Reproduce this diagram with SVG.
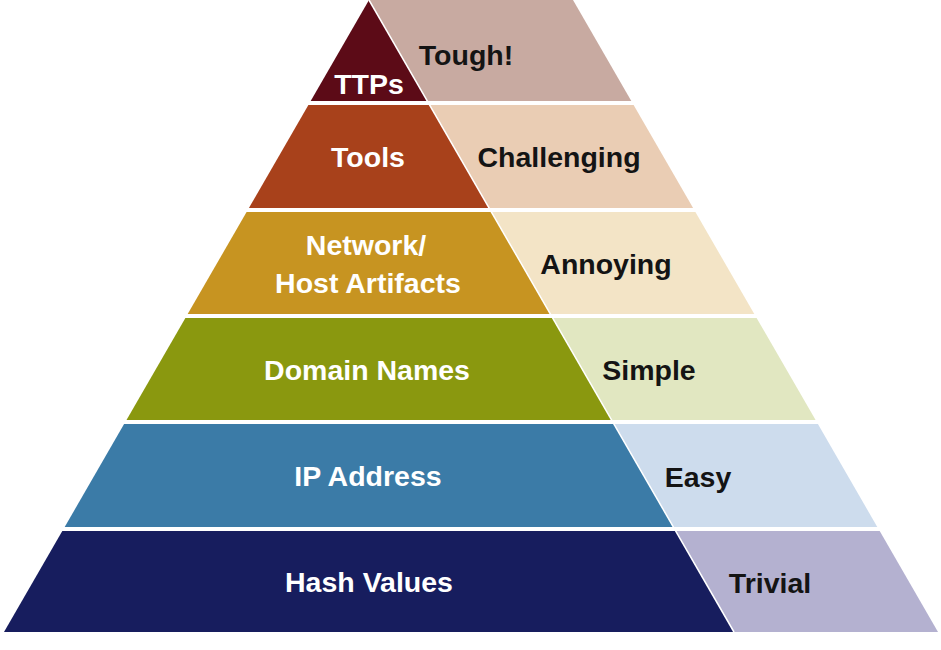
<svg xmlns="http://www.w3.org/2000/svg" width="941" height="650" viewBox="0 0 941 650">
<style>
.lbl{font-family:"Liberation Sans",Arial,sans-serif;font-weight:bold;font-size:28.5px}
.w{fill:#ffffff}
.d{fill:#141414}
.c{text-anchor:middle}
</style>
<rect x="0" y="0" width="941" height="650" fill="#ffffff"/>
<g id="ttps">
<polygon points="369,0 310.7,101 427.3,101" fill="#5c0b17"/>
<text class="lbl w c" x="369" y="94">TTPs</text>
</g>
<g id="tough">
<polygon points="369,0 573,0 631.3,101 427.3,101" fill="#c8aaa1"/>
<text class="lbl d c" x="466" y="65">Tough!</text>
</g>
<g id="tools">
<polygon points="308.4,105 429.6,105 489.1,208 248.9,208" fill="#a8411b"/>
<text class="lbl w c" x="368" y="167">Tools</text>
</g>
<g id="challenging">
<polygon points="429.6,105 633.6,105 693.1,208 489.1,208" fill="#eacdb4"/>
<text class="lbl d c" x="559" y="167">Challenging</text>
</g>
<g id="artifacts">
<polygon points="246.6,212 491.4,212 550.3,314 187.7,314" fill="#c79421"/>
<text class="lbl w c" x="366" y="255">Network/</text>
<text class="lbl w c" x="368" y="293">Host Artifacts</text>
</g>
<g id="annoying">
<polygon points="491.4,212 695.4,212 754.3,314 550.3,314" fill="#f3e4c6"/>
<text class="lbl d c" x="606" y="274">Annoying</text>
</g>
<g id="domains">
<polygon points="185.4,318 552.6,318 611.6,420 126.5,420" fill="#8a980f"/>
<text class="lbl w c" x="367" y="380">Domain Names</text>
</g>
<g id="simple">
<polygon points="552.6,318 756.6,318 815.6,420 611.6,420" fill="#e1e7c1"/>
<text class="lbl d c" x="649" y="380">Simple</text>
</g>
<g id="ip">
<polygon points="124.1,424 613.9,424 673.3,527 64.7,527" fill="#3b7ba7"/>
<text class="lbl w c" x="368" y="486">IP Address</text>
</g>
<g id="easy">
<polygon points="613.9,424 817.9,424 877.3,527 673.3,527" fill="#cddced"/>
<text class="lbl d c" x="698" y="487">Easy</text>
</g>
<g id="hash">
<polygon points="62.3,531 675.7,531 734,632 4,632" fill="#171d5e"/>
<text class="lbl w c" x="369" y="592">Hash Values</text>
</g>
<g id="trivial">
<polygon points="675.7,531 879.7,531 938,632 734,632" fill="#b4b1d0"/>
<text class="lbl d c" x="770" y="593">Trivial</text>
</g>
<g id="connectors">
<line x1="369" y1="0" x2="734" y2="632" stroke="#ffffff" stroke-width="1.5"/>
</g>
</svg>
